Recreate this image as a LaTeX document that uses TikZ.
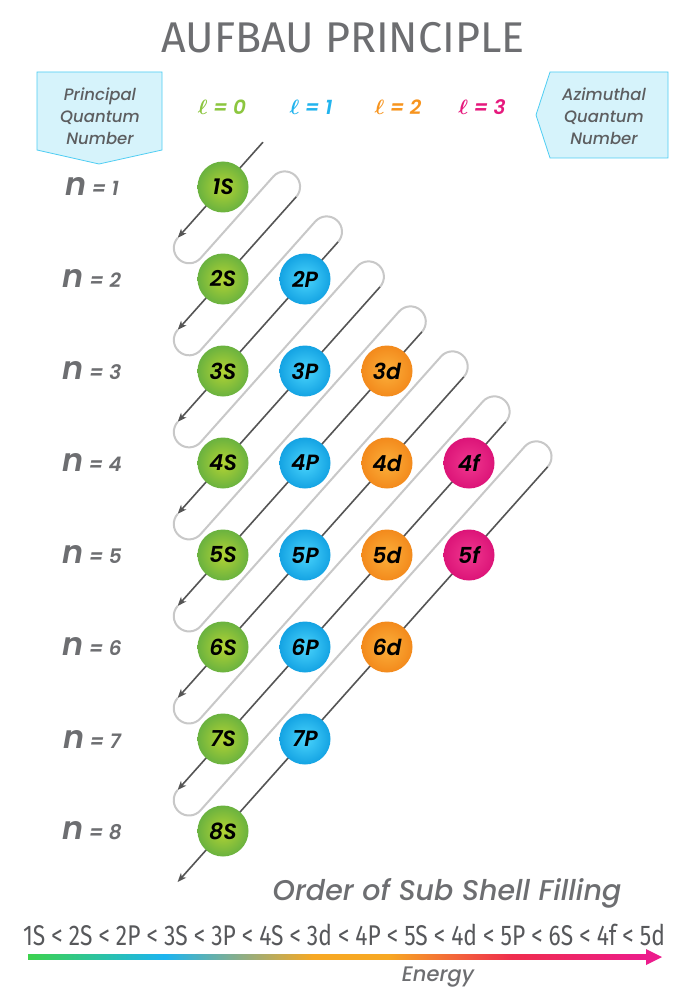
\documentclass[tikz,border=0pt]{standalone}
\usepackage{amsmath}
\usepackage{fontspec}
\setmainfont{Poppins}[UprightFont={* Medium},ItalicFont={* Medium Italic},
  BoldFont={* SemiBold},BoldItalicFont={* SemiBold Italic}]
\newfontfamily\dinfont{Fira Sans}
\usetikzlibrary{arrows.meta,positioning,calc}

\definecolor{txtgray}{HTML}{6D6E71}
\definecolor{diaggray}{HTML}{555555}
\definecolor{loopgray}{HTML}{C8C8C8}
\definecolor{boxfill}{HTML}{D6F3FB}
\definecolor{boxline}{HTML}{4ECDF3}
\definecolor{lgreen}{HTML}{8CC63F}
\definecolor{lblue}{HTML}{22B4EE}
\definecolor{lorange}{HTML}{F7941E}
\definecolor{lpink}{HTML}{E6197D}
\definecolor{sin}{HTML}{B4D433}\definecolor{sout}{HTML}{6AB23F}
\definecolor{pin}{HTML}{4AD4FC}\definecolor{pout}{HTML}{14A3E3}
\definecolor{din}{HTML}{FBB03B}\definecolor{dout}{HTML}{F38A1C}
\definecolor{fin}{HTML}{F0388F}\definecolor{fout}{HTML}{DC1478}
\definecolor{egreen}{HTML}{3DD24E}
\definecolor{eblue}{HTML}{1CB4F0}
\definecolor{eorange}{HTML}{F7A823}
\definecolor{ered}{HTML}{EF2D4D}
\definecolor{emag}{HTML}{EC1C8C}

\pgfdeclarehorizontalshading{energy}{100bp}{color(0bp)=(egreen); color(25bp)=(egreen);
  color(36bp)=(eblue); color(48bp)=(eorange); color(54bp)=(eorange); color(64bp)=(ered);
  color(75bp)=(emag); color(100bp)=(emag)}

\tikzset{
  orb/.style={circle,minimum size=51pt,inner sep=0pt,shading=radial,
    font=\fontsize{22}{22}\selectfont\bfseries\itshape},
  sorb/.style={orb,inner color=sin,outer color=sout},
  porb/.style={orb,inner color=pin,outer color=pout},
  dorb/.style={orb,inner color=din,outer color=dout},
  forb/.style={orb,inner color=fin,outer color=fout},
  diag/.style={draw=diaggray,line width=1.6pt,-{Stealth[length=9pt,width=7pt,inset=2.5pt]}},
  turn/.style={draw=loopgray,line width=2pt},
  callout/.style={fill=boxfill,draw=boxline,line width=0.8pt},
  boxtext/.style={align=center,text=txtgray!85!black,font=\fontsize{16.5}{22}\selectfont\itshape},
  nlab/.style={text=txtgray,font=\bfseries\itshape},
  llab/.style={font=\fontsize{20}{20}\selectfont\bfseries\itshape},
}

\begin{document}
\begin{tikzpicture}[x=1pt,y=-1pt]
\useasboundingbox[fill=white] (0,0) rectangle (687,1000);

\node[text=txtgray,font=\dinfont\fontsize{43}{43}\selectfont] (title) at (343,38) {AUFBAU PRINCIPLE};

% quantum number boxes
\draw[callout] (37,72) -- (162,72) -- (162,150) -- (99,164) -- (37,150) -- cycle;
\node[boxtext] (principal) at (100,116) {Principal\\Quantum\\Number};
\draw[callout] (550,72) -- (668,72) -- (668,158) -- (550,158) -- (536,115) -- cycle;
\node[boxtext] (azimuthal) at (604,116) {Azimuthal\\Quantum\\Number};

\foreach \l/\x/\col in {0/222/lgreen,1/311/lblue,2/398/lorange,3/482/lpink}
  \node[llab,text=\col] (l\l) at (\x,107) {$\boldsymbol{\ell}$ = \l};

\foreach \n in {1,...,8}
  \node[nlab] (n\n) at (92,187+92*\n-92) {\fontsize{32}{32}\selectfont n\fontsize{20}{20}\selectfont{} = \n};

% filling path, drawn along the diagonals
\begin{scope}[shift={(223,187)},x={(0.6656pt,0.7468pt)},y={(0.7468pt,-0.6656pt)}]
\foreach \k in {0,...,7}{
  \pgfmathsetmacro\st{\k==0 ? 60 : 47-5.7*\k}
  \pgfmathsetmacro\sb{-68-68.7*\k}
  \coordinate (top\k) at (\st,61.2*\k);
  \coordinate (bot\k) at (\sb,61.2*\k);
}
\foreach \k [evaluate=\k as \m using int(\k+1)] in {0,...,6}
  \draw[turn] (bot\k) arc[start angle=270,end angle=90,radius=15.3]
    -- ($(top\m)+(0,-30.6)$) arc[start angle=-90,end angle=90,radius=15.3];
\foreach \k in {0,...,7}
  \draw[diag] (top\k) -- (bot\k);
\end{scope}

\foreach \lab/\c/\r/\sty in {1S/0/0/sorb,2S/0/1/sorb,2P/1/1/porb,3S/0/2/sorb,3P/1/2/porb,
    3d/2/2/dorb,4S/0/3/sorb,4P/1/3/porb,4d/2/3/dorb,4f/3/3/forb,5S/0/4/sorb,5P/1/4/porb,
    5d/2/4/dorb,5f/3/4/forb,6S/0/5/sorb,6P/1/5/porb,6d/2/5/dorb,7S/0/6/sorb,7P/1/6/porb,8S/0/7/sorb}
  \node[\sty] (o\lab) at (223+82*\c,187+92*\r) {\lab};

\node[text=txtgray,font=\fontsize{28.5}{28.5}\selectfont\itshape] (order) at (447,893) {Order of Sub Shell Filling};
\node[text=txtgray!80!black,font=\dinfont\fontsize{28.5}{28.5}\selectfont] (seq) at (344,935)
  {\scalebox{0.8}[1]{1S < 2S < 2P < 3S < 3P < 4S < 3d < 4P < 5S < 4d < 5P < 6S < 4f < 5d}};

\coordinate (estart) at (28,957);
\coordinate (eend) at (662,957);
\shade[shading=energy] ($(estart)+(0,-2.2)$) rectangle ($(eend)+(-14,2.2)$);
\fill[emag] ($(eend)+(-16,-8)$) -- (eend) -- ($(eend)+(-16,8)$) -- cycle;
\node[text=txtgray,font=\fontsize{21}{21}\selectfont\itshape] (energy) at (438,977) {Energy};
\end{tikzpicture}
\end{document}
